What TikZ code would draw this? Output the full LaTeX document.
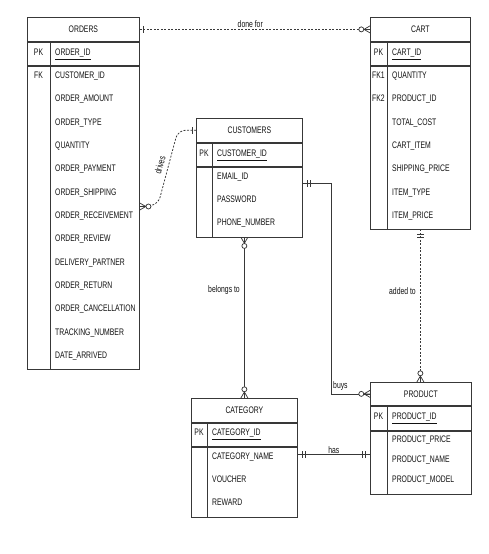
\documentclass[tikz,border=0pt]{standalone}
\usepackage{fontspec}
\newfontfamily\erfont[FakeStretch=0.72]{Liberation Sans}
\definecolor{linec}{HTML}{383838}
\definecolor{txt}{HTML}{111111}
\begin{document}
\begin{tikzpicture}[x=1pt,y=-1pt,
  erf/.style={font=\erfont\fontsize{9.5}{11}\selectfont, text=txt},
  box/.style={draw=linec, line width=0.75pt, fill=white, inner sep=0pt, anchor=north west, erf},
  attr/.style={anchor=west, inner sep=0pt, text height=7pt, text depth=2pt, erf},
  keyl/.style={anchor=center, inner sep=0pt, text height=7pt, text depth=2pt, erf},
  rel/.style={draw=linec, line width=0.75pt},
  dsh/.style={rel, dash pattern=on 2pt off 1.5pt},
  lbl/.style={inner sep=1pt, erf},
  one/.pic={\draw[rel] (4,-3.5) -- (4,3.5);},
  onlyone/.pic={\draw[rel] (5,-3.5) -- (5,3.5) (8,-3.5) -- (8,3.5);},
  zmany/.pic={\draw[rel] (0,-3.5) -- (6,0) -- (0,3.5) (0,0) -- (6,0);
              \draw[rel, fill=white] (8.7,0) circle (2.5pt);}
]
\path[use as bounding box] (0,0) rectangle (489,554);

% ORDERS
\node[box, minimum width=112, minimum height=24] (orders) at (27,17) {ORDERS};
\node[box, minimum width=112, minimum height=23] (ordersPK) at (orders.south west) {};
\node[box, minimum width=112, minimum height=303] (ordersBody) at (ordersPK.south west) {};
\draw[rel] ([xshift=23pt]ordersPK.north west) -- ([xshift=23pt]ordersBody.south west);
\node[keyl] (ordersPKl) at (38.5,53) {PK};
\node[attr] (ordersPKf) at (55,53) {\underline{ORDER\_ID}};
\node[keyl] (ordersFK) at (38.5,76) {FK};
\foreach \t [count=\i from 0] in {CUSTOMER\_ID, ORDER\_AMOUNT, ORDER\_TYPE, QUANTITY, ORDER\_PAYMENT, ORDER\_SHIPPING, ORDER\_RECEIVEMENT, ORDER\_REVIEW, DELIVERY\_PARTNER, ORDER\_RETURN, ORDER\_CANCELLATION, TRACKING\_NUMBER, DATE\_ARRIVED}
  \node[attr] (ordersA\i) at (55,76+23.33*\i) {\t};

% CUSTOMERS
\node[box, minimum width=106, minimum height=24] (cust) at (196,118) {CUSTOMERS};
\node[box, minimum width=106, minimum height=23] (custPK) at (cust.south west) {};
\node[box, minimum width=106, minimum height=70] (custBody) at (custPK.south west) {};
\draw[rel] ([xshift=16pt]custPK.north west) -- ([xshift=16pt]custBody.south west);
\node[keyl] (custPKl) at (204,154) {PK};
\node[attr] (custPKf) at (217,154) {\underline{CUSTOMER\_ID}};
\foreach \t [count=\i from 0] in {EMAIL\_ID, PASSWORD, PHONE\_NUMBER}
  \node[attr] (custA\i) at (217,177+23*\i) {\t};

% CART
\node[box, minimum width=100, minimum height=24] (cart) at (370,17) {CART};
\node[box, minimum width=100, minimum height=23] (cartPK) at (cart.south west) {};
\node[box, minimum width=100, minimum height=163] (cartBody) at (cartPK.south west) {};
\draw[rel] ([xshift=17pt]cartPK.north west) -- ([xshift=17pt]cartBody.south west);
\node[keyl] (cartPKl) at (378.5,53) {PK};
\node[attr] (cartPKf) at (392,53) {\underline{CART\_ID}};
\node[keyl] (cartFK1) at (378.5,76) {FK1};
\node[keyl] (cartFK2) at (378.5,99.3) {FK2};
\foreach \t [count=\i from 0] in {QUANTITY, PRODUCT\_ID, TOTAL\_COST, CART\_ITEM, SHIPPING\_PRICE, ITEM\_TYPE, ITEM\_PRICE}
  \node[attr] (cartA\i) at (392,76+23.33*\i) {\t};

% PRODUCT
\node[box, minimum width=101, minimum height=23] (prod) at (370,382) {PRODUCT};
\node[box, minimum width=101, minimum height=24] (prodPK) at (prod.south west) {};
\node[box, minimum width=101, minimum height=63] (prodBody) at (prodPK.south west) {};
\draw[rel] ([xshift=17pt]prodPK.north west) -- ([xshift=17pt]prodBody.south west);
\node[keyl] (prodPKl) at (378.5,417) {PK};
\node[attr] (prodPKf) at (392,417) {\underline{PRODUCT\_ID}};
\foreach \t [count=\i from 0] in {PRODUCT\_PRICE, PRODUCT\_NAME, PRODUCT\_MODEL}
  \node[attr] (prodA\i) at (392,440+20*\i) {\t};

% CATEGORY
\node[box, minimum width=106, minimum height=24] (cat) at (191,398) {CATEGORY};
\node[box, minimum width=106, minimum height=23] (catPK) at (cat.south west) {};
\node[box, minimum width=106, minimum height=70] (catBody) at (catPK.south west) {};
\draw[rel] ([xshift=16pt]catPK.north west) -- ([xshift=16pt]catBody.south west);
\node[keyl] (catPKl) at (199,433) {PK};
\node[attr] (catPKf) at (212,433) {\underline{CATEGORY\_ID}};
\foreach \t [count=\i from 0] in {CATEGORY\_NAME, VOUCHER, REWARD}
  \node[attr] (catA\i) at (212,457+23*\i) {\t};

% done for
\draw[dsh] (orders.east) -- (cart.west) node[lbl, pos=0.48, above] (dfl) {done for};
\pic at (orders.east) {one};
\pic[rotate=180] at (cart.west) {zmany};

% drives
\coordinate (drA) at ([yshift=-141pt]ordersBody.north east);
\draw[dsh, rounded corners=8pt] (cust.west) -- (178,130) -- (158,205) -- (drA);
\pic[rotate=180] at (cust.west) {one};
\pic at (drA) {zmany};
\node[lbl, rotate=75, inner sep=0pt] (drl) at (160,165) {drives};

% buys
\coordinate (byA) at ([yshift=-17pt]custBody.north east);
\draw[rel] (byA) -- ++(29,0) |- (prod.west);
\pic at (byA) {onlyone};
\pic[rotate=180] at (prod.west) {zmany};
\node[lbl, anchor=south west] (byl) at (332,392) {buys};

% belongs to
\coordinate (btA) at (cat.north |- custBody.south);
\draw[rel] (btA) -- (cat.north);
\pic[rotate=-90] at (btA) {zmany};
\pic[rotate=90] at (cat.north) {zmany};
\node[lbl, anchor=east] (btl) at (241,290) {belongs to};

% added to
\coordinate (atA) at (cartBody.south);
\coordinate (atB) at (atA |- prod.north);
\draw[dsh] (atA) -- (atB);
\pic[rotate=-90] at (atA) {onlyone};
\pic[rotate=90] at (atB) {zmany};
\node[lbl, anchor=east] (atl) at (417,291) {added to};

% has
\coordinate (hsA) at ([yshift=-8pt]catBody.north east);
\coordinate (hsB) at (hsA -| prodBody.west);
\draw[rel] (hsA) -- (hsB) node[lbl, midway, above] (hsl) {has};
\pic at (hsA) {onlyone};
\pic[rotate=180] at (hsB) {onlyone};
\end{tikzpicture}
\end{document}
